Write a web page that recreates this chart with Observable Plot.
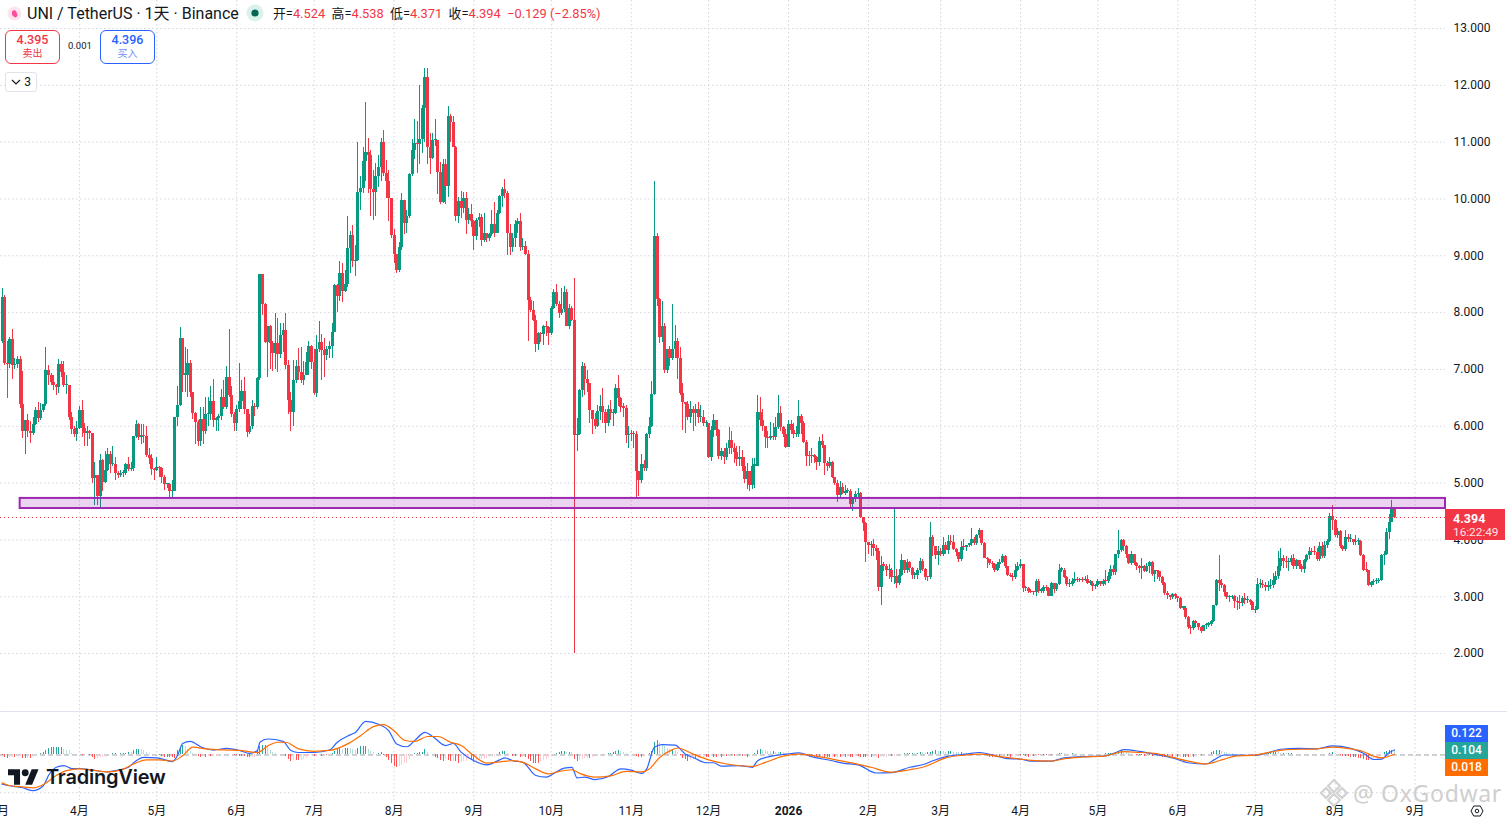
<!DOCTYPE html>
<html><head><meta charset="utf-8">
<script src="https://cdn.jsdelivr.net/npm/d3@7"></script>
<script src="https://cdn.jsdelivr.net/npm/@observablehq/plot@0.6"></script>
<style>
html,body{margin:0;padding:0;background:#fff}
#chart{position:relative;width:1507px;height:817px;overflow:hidden;font-family:Roboto,"Noto Sans CJK SC",sans-serif;color:#131722}
#chart svg.plot{position:absolute;left:0;display:block;background:transparent}
.abs{position:absolute;white-space:nowrap}
.box{position:absolute;box-sizing:border-box;border-radius:6px;background:#fff;text-align:center}
.tag{position:absolute;left:1445px;width:43px;height:17px;line-height:17px;color:#fff;font-size:12px;font-weight:500;text-align:center}
</style></head><body><div id="chart"></div>
<script>
// daily rows: [high, low, close]; open is the previous close
const firstOpen = 7.5;
const mar25=[[8.42,7.45,8.27],[8.3,7.07,7.11],[7.5,6.48,7.08],[7.56,7.02,7.52],[7.7,6.83,7.07],[7.2,7.0,7.08],[7.22,7.02,7.17],[7.22,6.32,6.39],[6.96,5.78,5.9],[6.1,5.5,6.1],
[6.2,5.8,5.91],[6.08,5.7,5.87],[6.15,5.83,6.03],[6.33,6.02,6.27],[6.42,6.07,6.13],[6.4,6.1,6.27],[6.39,6.25,6.38],[7.38,6.35,6.98],[7.07,6.72,6.9],[6.92,6.72,6.77],
[6.9,6.63,6.72],[6.74,6.55,6.69],[7.17,6.58,7.08],[7.14,6.85,6.94],[7.14,6.68,6.72],[6.9,6.56,6.72],[6.72,6.1,6.16],[6.25,5.86,5.94],[6.0,5.8,5.85],[6.08,5.74,5.96]];
const apr25=[[6.34,5.95,6.27],[6.46,5.8,5.96],[6.05,5.65,5.88],[6.0,5.65,5.91],[5.93,5.77,5.87],[5.87,5.0,5.08],[5.37,4.6,5.13],[5.13,4.6,4.76],[5.5,4.56,5.4],[5.42,4.85,5.01],
[5.56,5.0,5.23],[5.6,5.2,5.5],[5.56,5.16,5.32],[5.64,5.3,5.33],[5.45,5.05,5.17],[5.2,5.08,5.13],[5.22,5.09,5.16],[5.22,5.1,5.17],[5.35,5.13,5.32],[5.45,5.2,5.24],
[5.36,5.2,5.26],[5.82,5.2,5.82],[6.1,5.78,6.03],[6.05,5.75,5.8],[6.03,5.68,5.83],[6.03,5.7,5.82],[6.0,5.45,5.49],[5.6,5.32,5.44],[5.5,5.13,5.24],[5.26,5.05,5.22]];
const may25=[[5.45,5.2,5.27],[5.3,5.1,5.25],[5.27,5.0,5.1],[5.14,4.87,4.97],[5.0,4.9,4.97],[5.0,4.75,4.85],[5.04,4.74,4.86],[6.15,4.85,6.15],[6.7,6.0,6.36],[7.74,6.34,7.55],
[7.55,6.6,6.9],[7.38,6.6,6.9],[7.35,6.5,7.1],[7.16,6.5,6.6],[6.6,6.12,6.23],[6.25,5.68,6.07],[6.1,5.65,5.74],[6.33,5.65,6.12],[6.33,5.68,5.9],[6.5,5.85,6.2],
[6.5,6.0,6.2],[6.7,6.1,6.44],[6.82,5.98,6.1],[6.15,5.9,6.14],[6.2,5.9,6.17],[6.65,6.1,6.5],[6.8,6.3,6.33],[7.05,6.3,6.85],[7.7,6.5,6.54],[6.7,6.15,6.2],[6.25,5.9,6.05]];
const jun25=[[6.37,5.9,6.3],[7.1,6.25,6.44],[6.8,6.3,6.62],[6.85,6.2,6.3],[6.3,5.8,5.89],[6.2,5.85,5.99],[6.45,5.95,6.34],[6.4,6.17,6.33],[6.85,6.3,6.84],[8.67,6.8,8.67],
[8.67,7.95,8.15],[8.16,7.45,7.47],[7.76,6.85,7.76],[7.78,7.0,7.45],[7.5,6.97,7.28],[7.98,7.0,7.45],[7.9,6.95,7.27],[7.8,7.2,7.6],[7.8,7.3,7.69],[7.98,7.0,7.07],
[7.15,6.2,6.45],[6.6,5.9,6.24],[7.15,6.0,6.8],[7.15,6.75,7.06],[7.36,6.8,6.95],[7.38,6.75,6.8],[7.14,6.72,6.9],[7.3,6.9,7.12],[7.5,6.9,7.4],[7.42,7.0,7.13]];
const jul25=[[7.35,6.55,6.58],[7.6,6.5,7.35],[7.85,7.3,7.47],[7.62,6.8,7.33],[7.55,6.85,7.25],[7.4,7.15,7.35],[7.5,7.2,7.4],[7.8,7.2,7.65],[8.5,7.65,8.47],[8.5,8.0,8.28],
[8.9,8.2,8.68],[8.86,8.18,8.38],[8.75,8.35,8.49],[9.7,8.45,9.12],[9.42,8.68,9.35],[9.53,8.8,8.9],[9.18,8.63,8.92],[11.0,8.9,10.12],[10.4,9.8,10.18],[10.9,10.1,10.66],
[11.7,10.3,10.82],[11.07,10.1,10.76],[10.85,9.7,10.17],[10.5,9.62,10.12],[10.62,9.7,10.4],[10.77,10.2,10.55],[11.06,10.3,11.0],[11.2,10.4,10.45],[10.68,10.0,10.3],[10.5,9.6,10.0],[10.0,9.3,9.35]];
const aug25=[[9.47,8.86,9.03],[9.03,8.68,8.74],[9.24,8.7,9.14],[10.09,9.1,9.97],[9.97,9.38,9.57],[9.8,9.4,9.7],[10.44,9.65,10.43],[11.05,10.4,10.86],[11.39,10.7,10.97],[11.36,10.45,10.95],
[12.0,10.6,11.04],[11.65,10.8,11.6],[12.3,11.0,12.13],[12.3,10.6,10.9],[11.15,10.43,10.71],[11.15,10.7,11.03],[11.39,10.92,11.03],[11.03,10.08,10.47],[10.65,9.9,9.93],[10.7,9.92,10.6],
[10.7,9.9,10.22],[11.63,10.03,11.45],[11.48,11.0,11.35],[11.45,10.9,10.9],[10.93,9.6,9.7],[10.03,9.57,9.95],[10.13,9.65,9.84],[10.12,9.74,10.0],[10.12,9.37,9.62],[9.83,9.55,9.72],[9.9,9.5,9.6]];
const sep25=[[9.62,9.1,9.34],[9.65,9.27,9.62],[9.75,9.5,9.68],[9.72,9.17,9.27],[9.75,9.23,9.39],[9.39,9.24,9.31],[9.4,9.25,9.38],[9.8,9.34,9.55],[9.94,9.33,9.4],[9.8,9.45,9.74],
[10.06,9.72,10.05],[10.2,9.85,10.17],[10.35,10.0,10.1],[10.13,9.0,9.4],[9.55,9.0,9.15],[9.4,9.05,9.3],[9.62,9.15,9.55],[9.65,9.4,9.6],[9.74,9.08,9.15],[9.3,9.1,9.17],
[9.25,9.0,9.03],[9.09,7.5,8.22],[8.27,8.0,8.03],[8.2,7.85,7.87],[7.95,7.3,7.44],[7.65,7.33,7.64],[7.65,7.48,7.62],[7.77,7.42,7.76],[7.85,7.58,7.74],[7.76,7.42,7.63]];
const oct25=[[8.1,7.6,8.07],[8.4,8.05,8.35],[8.5,8.1,8.15],[8.2,7.9,7.99],[8.43,7.95,8.05],[8.46,8.0,8.36],[8.4,7.75,7.76],[8.15,7.7,8.07],[8.1,7.84,7.86],[8.6,2.0,5.83],
[6.13,5.56,5.85],[6.65,5.83,6.63],[7.12,6.5,7.05],[7.1,6.55,6.82],[6.98,6.6,6.76],[6.72,6.05,6.27],[6.27,5.86,6.12],[6.22,5.95,6.0],[6.36,5.97,6.26],[6.55,6.1,6.34],
[6.67,6.05,6.25],[6.3,5.88,6.05],[6.36,6.0,6.3],[6.46,6.1,6.22],[6.3,6.0,6.23],[6.73,6.2,6.67],[6.9,6.35,6.48],[6.5,6.25,6.33],[6.4,6.15,6.32],[6.37,5.7,5.84],[6.0,5.6,5.86]];
const nov25=[[5.93,5.73,5.85],[5.9,5.6,5.86],[5.9,4.75,5.2],[5.2,4.76,5.05],[5.5,5.0,5.33],[5.4,5.2,5.25],[5.87,5.2,5.86],[6.15,5.78,6.0],[6.78,5.98,6.56],[10.3,6.55,9.34],
[9.4,8.1,8.23],[8.24,7.45,7.57],[8.2,7.48,7.75],[7.8,6.93,6.98],[7.35,6.93,7.35],[7.4,7.05,7.2],[8.15,7.15,7.35],[7.77,7.2,7.5],[7.55,6.83,7.2],[7.38,6.55,6.57],
[6.75,5.92,6.42],[6.42,5.88,6.38],[6.44,6.1,6.15],[6.44,6.05,6.3],[6.35,5.9,6.22],[6.38,6.0,6.3],[6.42,6.05,6.15],[6.36,6.07,6.15],[6.27,6.0,6.05],[6.1,5.98,6.05]];
const dec25=[[6.05,5.43,5.45],[6.0,5.38,5.92],[6.2,5.8,6.1],[6.1,5.82,5.92],[5.95,5.42,5.47],[5.6,5.4,5.55],[5.6,5.33,5.45],[5.7,5.4,5.6],[5.97,5.5,5.75],[5.9,5.5,5.6],
[5.7,5.35,5.53],[5.65,5.3,5.42],[5.65,5.3,5.45],[5.57,5.2,5.29],[5.45,5.0,5.07],[5.35,4.88,5.2],[5.2,4.85,4.95],[5.43,4.88,5.3],[5.43,4.9,5.3],[6.55,5.3,6.25],
[6.5,6.0,6.1],[6.3,5.9,6.0],[6.0,5.6,5.81],[5.9,5.6,5.78],[6.06,5.75,5.82],[6.05,5.75,5.8],[6.15,5.75,5.98],[6.55,5.95,6.23],[6.35,5.9,5.98],[6.0,5.8,5.85],[5.95,5.6,5.63]];
const jan26=[[6.1,5.62,6.03],[6.1,5.85,5.92],[6.05,5.78,5.85],[6.0,5.8,5.85],[6.45,5.8,6.17],[6.2,5.85,6.05],[6.08,5.7,5.72],[5.75,5.3,5.47],[5.55,5.3,5.46],[5.6,5.35,5.48],
[5.5,5.35,5.45],[5.47,5.22,5.36],[5.8,5.3,5.73],[5.85,5.6,5.66],[5.67,5.13,5.35],[5.38,5.2,5.3],[5.45,5.25,5.36],[5.38,5.08,5.09],[5.1,4.95,5.0],[5.04,4.65,4.78],
[5.03,4.75,4.93],[5.0,4.8,4.82],[4.95,4.78,4.85],[4.9,4.82,4.85],[4.88,4.55,4.63],[4.75,4.5,4.72],[4.85,4.65,4.8],[4.9,4.75,4.82],[4.83,4.38,4.39],[4.4,4.15,4.29],[4.3,3.6,3.96]];
const feb26=[[3.96,3.75,3.9],[3.98,3.7,3.92],[4.0,3.7,3.84],[3.9,3.63,3.8],[3.84,3.1,3.17],[3.7,2.85,3.55],[3.6,3.45,3.54],[3.56,3.35,3.46],[3.57,3.3,3.47],[3.5,3.25,3.34],
[4.57,3.22,3.36],[3.48,3.15,3.23],[3.48,3.2,3.38],[3.74,3.35,3.63],[3.63,3.4,3.46],[3.65,3.4,3.6],[3.62,3.42,3.5],[3.52,3.3,3.38],[3.42,3.3,3.38],[3.5,3.3,3.47],
[3.68,3.4,3.62],[3.66,3.45,3.48],[3.5,3.28,3.34],[3.35,3.27,3.33],[4.3,3.3,4.05],[4.08,3.7,3.88],[3.88,3.65,3.72],[3.88,3.55,3.8]];
const mar26=[[3.85,3.7,3.74],[4.05,3.7,3.9],[3.95,3.75,3.82],[4.08,3.75,3.97],[4.08,3.9,3.96],[4.07,3.82,3.83],[3.85,3.7,3.78],[3.78,3.6,3.65],[3.98,3.62,3.87],[4.0,3.82,3.86],
[3.9,3.8,3.9],[3.94,3.87,3.93],[4.2,3.88,4.0],[4.05,3.9,3.93],[4.1,3.9,4.07],[4.2,4.02,4.16],[4.17,3.9,3.94],[3.95,3.67,3.68],[3.69,3.5,3.65],[3.65,3.55,3.58],
[3.62,3.5,3.57],[3.58,3.42,3.47],[3.6,3.45,3.57],[3.65,3.5,3.6],[3.75,3.58,3.7],[3.72,3.5,3.53],[3.54,3.35,3.37],[3.4,3.33,3.35],[3.4,3.27,3.33],[3.57,3.3,3.47],[3.6,3.45,3.54]];
const apr26=[[3.66,3.5,3.56],[3.56,3.08,3.15],[3.18,3.1,3.15],[3.17,3.06,3.1],[3.12,3.05,3.08],[3.1,3.03,3.07],[3.3,3.0,3.27],[3.3,3.05,3.1],[3.15,3.05,3.1],[3.2,3.05,3.17],
[3.2,3.1,3.15],[3.17,3.0,3.01],[3.25,3.0,3.23],[3.24,3.05,3.12],[3.23,3.1,3.22],[3.56,3.2,3.47],[3.52,3.42,3.47],[3.5,3.32,3.34],[3.36,3.18,3.21],[3.3,3.17,3.22],
[3.32,3.18,3.27],[3.42,3.24,3.31],[3.33,3.25,3.28],[3.32,3.25,3.29],[3.33,3.25,3.28],[3.35,3.26,3.3],[3.37,3.22,3.24],[3.28,3.2,3.24],[3.27,3.1,3.18],[3.22,3.12,3.19]];
const may26=[[3.3,3.17,3.26],[3.27,3.18,3.21],[3.3,3.18,3.27],[3.46,3.2,3.26],[3.42,3.24,3.35],[3.55,3.3,3.48],[3.55,3.38,3.42],[3.75,3.37,3.74],[4.17,3.67,3.81],[4.0,3.78,3.99],
[4.0,3.8,3.89],[3.9,3.68,3.74],[3.75,3.56,3.58],[3.8,3.55,3.74],[3.75,3.55,3.58],[3.6,3.47,3.53],[3.55,3.4,3.5],[3.68,3.3,3.54],[3.55,3.42,3.45],[3.58,3.42,3.54],
[3.62,3.4,3.6],[3.62,3.35,3.39],[3.46,3.25,3.46],[3.47,3.3,3.44],[3.42,3.27,3.33],[3.35,3.2,3.24],[3.25,3.03,3.06],[3.1,2.95,3.02],[3.03,2.93,2.98],[3.05,2.95,3.04],[3.05,2.95,3.0]];
const jun26=[[3.0,2.9,2.96],[2.98,2.78,2.8],[2.82,2.75,2.8],[2.82,2.6,2.63],[2.65,2.43,2.45],[2.5,2.33,2.44],[2.58,2.4,2.57],[2.58,2.45,2.52],[2.53,2.4,2.46],[2.47,2.36,2.39],
[2.5,2.38,2.49],[2.53,2.42,2.5],[2.55,2.45,2.51],[2.58,2.47,2.57],[2.84,2.55,2.84],[3.3,2.82,3.29],[3.72,3.1,3.23],[3.3,3.15,3.2],[3.22,3.0,3.07],[3.08,2.95,2.98],
[3.02,2.9,2.98],[3.02,2.95,3.0],[3.02,2.8,2.92],[2.98,2.75,2.89],[3.03,2.78,2.88],[3.0,2.82,2.96],[3.05,2.87,2.93],[3.0,2.88,2.93],[2.95,2.85,2.9],[2.92,2.75,2.76]];
const jul26=[[2.82,2.7,2.78],[3.32,2.75,3.21],[3.3,3.15,3.22],[3.28,3.15,3.2],[3.25,3.1,3.17],[3.27,3.1,3.18],[3.3,3.12,3.19],[3.4,3.15,3.28],[3.45,3.22,3.36],[3.8,3.3,3.53],
[3.84,3.45,3.67],[3.72,3.5,3.62],[3.7,3.5,3.6],[3.68,3.45,3.6],[3.72,3.55,3.67],[3.75,3.48,3.53],[3.65,3.48,3.63],[3.64,3.48,3.54],[3.56,3.42,3.48],[3.66,3.4,3.63],
[3.75,3.6,3.72],[3.87,3.65,3.79],[3.85,3.72,3.78],[3.88,3.72,3.77],[3.85,3.62,3.66],[3.95,3.62,3.88],[3.95,3.68,3.7],[3.98,3.68,3.9],[4.0,3.85,3.98],[4.47,3.95,4.42],[4.6,4.17,4.35]];
const aug26=[[4.36,4.05,4.07],[4.2,4.02,4.15],[4.16,3.85,3.89],[3.91,3.8,3.83],[4.17,3.8,4.05],[4.1,3.95,4.0],[4.1,3.95,4.0],[4.0,3.9,3.95],[4.08,3.9,3.97],[4.02,3.9,3.98],
[3.99,3.7,3.72],[3.75,3.45,3.47],[3.6,3.42,3.46],[3.47,3.18,3.2],[3.26,3.17,3.25],[3.3,3.2,3.27],[3.32,3.22,3.27],[3.32,3.24,3.29],[3.75,3.27,3.72],[3.8,3.55,3.75],
[4.2,3.72,4.13],[4.45,4.0,4.3],[4.7,4.3,4.53],[4.54,4.37,4.39]];

// histogram, one value a candle, same month order
const histMar25=[-.02,-.06,-.08,-.07,-.05,-.06,-.05,-.04,-.08,-.09,-.08,-.09,-.07,-.04,.02,.03,.06,.1,.17,.18,.18,.18,.18,.18,.14,.12,.1,.04,.01,.01];
const histApr25=[.01,-.01,.01,.01,-.02,-.05,-.1,-.09,-.07,-.06,-.05,.01,.02,.03,.03,.02,.03,.03,.04,.06,.05,.1,.14,.14,.13,.1,.06,.04,.01,.01];
const histMay25=[.01,-.01,-.03,-.05,-.05,-.06,-.06,-.08,.1,.18,.22,.2,.13,.09,.03,.0,-.03,-.05,-.04,-.06,-.03,-.04,-.03,-.02,-.01,.01,.02,.02,.02,.01,-.02];
const histJun25=[-.02,-.03,-.03,-.04,-.07,-.07,-.06,-.05,.1,.2,.22,.22,.18,.12,.05,.03,.02,.02,.01,-.03,-.1,-.16,-.14,-.14,-.14,-.13,-.12,-.08,-.04,-.02];
const histJul25=[-.04,-.03,-.02,-.03,-.02,-.02,-.01,.04,.08,.13,.16,.14,.15,.17,.15,.14,.1,.15,.2,.2,.2,.14,.09,.06,.02,.03,.05,-.01,-.06,-.14,-.22];
const histAug25=[-.28,-.3,-.28,-.25,-.22,-.2,-.12,-.04,.03,.04,.05,.06,.14,.06,.02,.0,-.05,-.09,-.13,-.15,-.12,-.13,-.17,-.15,-.17,-.2,-.18,-.17,-.16,-.12,-.13];
const histSep25=[-.18,-.15,-.14,-.12,-.1,-.08,-.06,-.04,-.03,.02,.06,.08,.09,.03,.01,-.03,-.03,-.02,-.06,-.05,-.07,-.12,-.16,-.2,-.2,-.2,-.17,-.14,-.1,-.05];
const histOct25=[-.01,.02,.03,.06,.08,.09,.07,.07,.06,-.1,-.16,-.14,-.1,-.09,-.08,-.08,-.07,-.06,-.04,-.02,.01,.02,.03,.04,.06,.09,.11,.08,.06,.03,.02];
const histNov25=[.02,.0,-.03,-.05,-.05,-.02,.01,.03,.08,.3,.35,.3,.24,.2,.17,.14,.14,.1,.05,-.01,-.09,-.12,-.15,-.14,-.1,-.1,-.09,-.06,-.05,-.05];
const histDec25=[-.05,-.03,-.05,-.05,-.03,-.05,-.02,-.03,-.02,-.02,-.03,-.02,-.02,-.04,-.03,-.05,-.04,-.02,.03,.1,.13,.12,.1,.09,.08,.08,.07,.06,.06,.05,.04];
const histJan26=[.03,.02,.02,.01,.01,.01,-.01,-.03,-.05,-.06,-.05,-.05,-.06,-.05,-.06,-.07,-.07,-.06,-.06,-.05,-.05,-.04,-.05,-.04,-.05,-.05,-.04,-.04,-.05,-.06,-.07];
const histFeb26=[-.06,-.07,-.06,-.05,-.08,-.07,-.06,-.05,-.04,-.04,-.03,-.02,.02,.02,.03,.03,.04,.04,.03,.03,.06,.05,.04,.05,.06,.09,.1,.09];
const histMar26=[.09,.08,.07,.08,.08,.07,.06,.05,.05,.03,.03,.02,.01,.02,.01,.01,.0,-.02,-.03,-.05,-.05,-.04,-.03,-.04,-.03,-.02,-.03,-.05,-.04,-.03,-.02];
const histApr26=[-.02,-.02,-.04,-.05,-.03,-.03,-.02,-.02,-.01,-.01,-.01,.0,-.01,.01,.01,.03,.04,.03,.02,.02,.03,.02,.02,.01,.01,.01,.02,.01,.02,.01];
const histMay26=[.01,.02,.02,.03,.03,.03,.04,.06,.09,.1,.08,.05,.03,.01,.0,-.01,-.02,-.02,-.03,-.02,-.02,-.03,-.02,-.03,-.04,-.05,-.06,-.07,-.06,-.06,-.05];
const histJun26=[-.07,-.06,-.06,-.07,-.07,-.05,-.05,-.03,-.02,-.02,-.01,.0,.02,.05,.09,.1,.1,.09,.07,.05,.04,.03,.02,.02,.01,.01,.0,.0,.0,-.01];
const histJul26=[-.01,.02,.02,.03,.03,.04,.05,.06,.06,.05,.04,.04,.03,.03,.03,.02,.01,.01,.0,.01,.01,.01,.0,.02,.01,.02,.02,.01,.02,.04,.05];
const histAug26=[.03,.0,-.02,-.04,-.04,-.04,-.05,-.06,-.07,-.08,-.08,-.1,-.13,-.14,-.13,-.1,-.06,-.03,.02,.05,.08,.1,.12,.104];

// MACD and signal read at these candle numbers
const macdAt=[0,3,8,12,16,18,21,24,27,30,35,41,45,49,52,55,60,66,68,70,73,77,82,87,92,96,99,100,103,109,112,115,121,127,130,135,137,141,146,150,153,157,160,164,167,172,175,178,183,188,193,195,198,202,207,211,214,218,221,223,226,230,235,240,244,248,250,253,256,261,265,268,273,276,279,286,291,293,299,304,309,315,322,326,332,339,345,352,358,361,367,374,379,387,390,395,399,407,412,419,428,432,435,441,447,454,460,467,470,474,485,490,496,503,510,516,523,528,532,535,538,540];
const macdValues=[-.71,-.75,-.8,-.87,-.75,-.5,-.3,-.26,-.33,-.33,-.37,-.41,-.37,-.3,-.14,-.06,-.07,-.16,-.02,.28,.33,.2,.12,.16,.11,.04,.11,.31,.39,.33,.11,.06,.06,.12,.31,.49,.55,.82,.75,.59,.27,.2,.35,.55,.45,.23,.28,.07,-.14,-.24,-.12,-.07,-.14,-.18,-.5,-.54,-.45,-.32,-.3,-.56,-.54,-.6,-.53,-.34,-.37,-.45,-.34,.19,.25,.24,.02,-.06,-.19,-.19,-.27,-.26,-.3,-.14,-.02,.02,.05,-.06,-.14,-.2,-.24,-.44,-.43,-.3,-.22,-.14,-.03,.02,.06,-.05,-.09,-.1,-.15,-.15,-.07,-.04,-.02,.06,.13,.09,.02,-.07,-.19,-.22,-.12,0,-.01,.04,.14,.16,.15,.22,.16,.04,-.11,-.1,.06,.122];
const signalAt=[0,3,7,12,16,21,25,30,35,41,46,51,56,61,66,70,74,79,87,92,99,103,107,110,115,121,127,134,139,144,148,152,156,160,165,169,174,178,183,188,193,198,202,207,212,216,221,224,230,236,242,248,251,255,259,262,268,274,281,291,296,303,309,315,322,330,337,345,352,358,366,374,379,387,391,395,399,407,412,419,428,435,441,447,454,460,467,470,474,479,485,492,498,510,516,523,528,532,535,540];
const signalValues=[-.68,-.75,-.77,-.8,-.72,-.5,-.38,-.34,-.37,-.41,-.37,-.22,-.12,-.12,-.15,-.02,.19,.15,.12,.11,.06,.22,.31,.31,.15,.09,.11,.27,.47,.69,.74,.59,.36,.33,.45,.45,.31,.23,-.02,-.2,-.17,-.14,-.18,-.34,-.46,-.4,-.36,-.45,-.54,-.51,-.4,-.41,-.34,-.06,.1,.17,.02,-.12,-.22,-.28,-.18,-.03,.02,-.02,-.1,-.2,-.3,-.42,-.36,-.28,-.07,0,.02,-.04,-.07,-.1,-.13,-.15,-.09,-.05,-.02,.08,.06,.04,-.06,-.15,-.22,-.18,-.1,-.02,-.01,.07,.13,.15,.19,.15,.08,-.03,-.07,.018];

const monthTicks=["2025-03-01","2025-04-01","2025-05-01","2025-06-01","2025-07-01","2025-08-01","2025-09-01","2025-10-01","2025-11-01","2025-12-01","2026-01-01","2026-02-01","2026-03-01","2026-04-01","2026-05-01","2026-06-01","2026-07-01","2026-08-01","2026-09-01"];
const monthLabels=["3月","4月","5月","6月","7月","8月","9月","10月","11月","12月","2026","2月","3月","4月","5月","6月","7月","8月","9月"];
const priceTicks=[2,3,4,5,6,7,8,9,10,11,12,13];
const zoneLow=4.552, zoneHigh=4.73, zoneStart="2025-03-09";
const lastClose=4.394;

const monthStarts=["2025-03-02","2025-04-01","2025-05-01","2025-06-01","2025-07-01","2025-08-01","2025-09-01","2025-10-01","2025-11-01","2025-12-01","2026-01-01","2026-02-01","2026-03-01","2026-04-01","2026-05-01","2026-06-01","2026-07-01","2026-08-01"];
const monthRows=[mar25,apr25,may25,jun25,jul25,aug25,sep25,oct25,nov25,dec25,jan26,feb26,mar26,apr26,may26,jun26,jul26,aug26];
const monthHist=[histMar25,histApr25,histMay25,histJun25,histJul25,histAug25,histSep25,histOct25,histNov25,histDec25,histJan26,histFeb26,histMar26,histApr26,histMay26,histJun26,histJul26,histAug26];

const DAY=86400000, UP="#089981", DOWN="#F23645", GRID="#d3d6dd";
const candles=[]; let prev=firstOpen;
monthRows.forEach((rows,m)=>{
  const t0=+new Date(monthStarts[m]+"T00:00:00Z");
  rows.forEach((r,k)=>{
    const o=prev,c=r[2],top=Math.max(o,c),bot=Math.min(o,c);
    candles.push({date:new Date(t0+k*DAY),o,c,h:Math.max(r[0],top),l:Math.min(r[1],bot),top:Math.max(top,bot+.02),bot,up:c>=o,hist:monthHist[m][k]??0});
    prev=c;
  });
});
candles.forEach((d,i)=>{const p=i?candles[i-1].hist:0;
  d.histColor=d.hist>=0?(d.hist>=p?"#26a69a":"#b2dfdb"):(d.hist<=p?"#ff5252":"#ffcdd2");});
const macdLine=macdAt.map((k,i)=>({date:candles[k].date,v:macdValues[i]}));
const signalLine=signalAt.map((k,i)=>({date:candles[k].date,v:signalValues[i]}));
const ticks=monthTicks.map((d,i)=>({date:new Date(d+"T00:00:00Z"),label:monthLabels[i]}));
const xDomain=[new Date("2025-03-01T09:07:00Z"),new Date("2026-09-12T19:12:00Z")];
const fontFamily='Roboto,"Noto Sans CJK SC",sans-serif';
const dots="1.5 2.5";

const vGrid=Plot.ruleX(ticks,{x:"date",stroke:GRID,strokeDasharray:dots});
const candleMarks=(flag,col)=>{const f=d=>d.up===flag;return [
  Plot.ruleX(candles,{filter:f,x:"date",y1:"l",y2:"h",stroke:col,strokeWidth:1,shapeRendering:"crispEdges"}),
  Plot.ruleX(candles,{filter:f,x:"date",y1:"bot",y2:"top",stroke:col,strokeWidth:3,shapeRendering:"crispEdges"})
];};

const main=Plot.plot({
  width:1507,height:711,marginTop:0,marginBottom:0,marginLeft:0,marginRight:62,
  style:{fontFamily,fontSize:"12px",color:"#131722",background:"transparent"},
  x:{type:"utc",domain:xDomain,axis:null},
  y:{domain:[0.98,13.493]},
  marks:[
    vGrid,
    Plot.ruleY(priceTicks,{stroke:GRID,strokeDasharray:dots}),
    ...candleMarks(true,UP),...candleMarks(false,DOWN),
    Plot.rect([{x1:new Date(zoneStart+"T00:00:00Z"),x2:xDomain[1],y1:zoneLow,y2:zoneHigh}],{x1:"x1",x2:"x2",y1:"y1",y2:"y2",fill:"#9c27b0",fillOpacity:.2,stroke:"#9c27b0",strokeWidth:2}),
    Plot.ruleY([lastClose],{stroke:DOWN,strokeDasharray:"1 3"}),
    Plot.axisY(priceTicks,{anchor:"right",tickSize:0,tickPadding:8,label:null,tickFormat:d3.format(".3f"),fontSize:12})
  ]
});
main.style.top="0";

const sub=Plot.plot({
  width:1507,height:106,marginTop:0,marginBottom:17,marginLeft:0,marginRight:62,
  style:{fontFamily,fontSize:"12px",color:"#131722",background:"transparent"},
  x:{type:"utc",domain:xDomain,axis:null},
  y:{domain:[-1.11,1.06],axis:null},
  marks:[
    vGrid,
    Plot.ruleY([-.92],{stroke:GRID,strokeDasharray:dots}),
    Plot.ruleY([0],{stroke:"#787b86",strokeOpacity:.7,strokeDasharray:"5 3"}),
    Plot.ruleX(candles,{x:"date",y1:0,y2:"hist",stroke:"histColor",strokeWidth:1,shapeRendering:"crispEdges"}),
    Plot.line(macdLine,{x:"date",y:"v",stroke:"#2962ff",strokeWidth:1.2,curve:"monotone-x"}),
    Plot.line(signalLine,{x:"date",y:"v",stroke:"#ff6d00",strokeWidth:1.2,curve:"monotone-x"}),
    Plot.text(ticks,{filter:d=>d.label!=="2026",x:"date",text:"label",frameAnchor:"bottom",lineAnchor:"middle",dy:11,fontSize:12,fill:"#131722"}),
    Plot.text(ticks,{filter:d=>d.label==="2026",x:"date",text:"label",frameAnchor:"bottom",lineAnchor:"middle",dy:11,fontSize:12,fontWeight:700,fill:"#131722"})
  ]
});
sub.style.top="711px";

const root=document.getElementById("chart");
root.append(main,sub);
root.insertAdjacentHTML("beforeend",`
<div class="abs" style="left:0;top:711px;width:1507px;height:1px;background:#e0e3eb"></div>
<svg class="abs" style="left:7px;top:6px" width="15" height="15"><circle cx="7.5" cy="7.5" r="7" fill="#fde3ee"/><path d="M5 5l3-1 2 3 .5 3-2 1.5-2-1-1.5-1.5z" fill="#ff4f9a"/></svg>
<div class="abs" style="left:27px;top:4px;font-size:16px;line-height:19px">UNI / TetherUS · 1天 · Binance</div>
<svg class="abs" style="left:246px;top:4px" width="18" height="18"><circle cx="9" cy="9" r="8.5" fill="#daf1ec"/><circle cx="9" cy="9" r="3.6" fill="#056656"/></svg>
<div class="abs" style="left:273px;top:5px;font-size:12.85px;line-height:18px;color:#131722">开=<span style="color:#F23645">4.524</span>&nbsp; 高=<span style="color:#F23645">4.538</span>&nbsp; 低=<span style="color:#F23645">4.371</span>&nbsp; 收=<span style="color:#F23645">4.394 &nbsp;−0.129 (−2.85%)</span></div>
<div class="box" style="left:5px;top:30px;width:55px;height:34px;border:1px solid #F23645;color:#F23645"><div style="font-size:12.5px;font-weight:500;line-height:17px;margin-top:0">4.395</div><div style="font-size:10px;line-height:12px">卖出</div></div>
<div class="abs" style="left:68px;top:40px;font-size:9.5px;line-height:12px">0.001</div>
<div class="box" style="left:100px;top:30px;width:55px;height:34px;border:1px solid #2962ff;color:#2962ff"><div style="font-size:12.5px;font-weight:500;line-height:17px;margin-top:0">4.396</div><div style="font-size:10px;line-height:12px;color:#6f93f5">买入</div></div>
<div class="box" style="left:5px;top:72px;width:32px;height:20px;border:1px solid #e0e3eb;border-radius:3px;font-size:12px;line-height:18px;padding-left:13px"><svg style="position:absolute;left:5px;top:6px" width="10" height="7"><path d="M1 1l4 4 4-4" fill="none" stroke="#131722" stroke-width="1.2"/></svg>3</div>
<div class="abs" style="left:1445px;top:509px;width:60px;height:31px;background:#F23645;color:#fff;text-align:left"><div style="font-size:12.5px;font-weight:700;line-height:15px;margin:2px 0 0 8px">4.394</div><div style="font-size:11.8px;line-height:13px;margin-left:8px;opacity:.85">16:22:49</div></div>
<div class="tag" style="top:725px;background:#2962ff">0.122</div>
<div class="tag" style="top:742px;background:#26a69a">0.104</div>
<div class="tag" style="top:759px;background:#ff6d00">0.018</div>
<svg class="abs" style="left:8px;top:769px" width="31" height="16" viewBox="0 4 36 18"><path d="M14 22H7V11H0V4h14v18zM28 22h-8l7.5-18h8L28 22z" fill="#131722"/><circle cx="20" cy="8" r="4" fill="#131722"/></svg>
<div class="abs" style="left:46px;top:765px;font-family:Inter,Roboto,sans-serif;font-weight:600;font-size:20px;line-height:25px;letter-spacing:-.2px;color:#131722">TradingView</div>
<svg class="abs" style="left:1319px;top:778px" width="30" height="30" viewBox="0 0 30 30"><g fill="none" stroke="#d2d2d2" stroke-width="2.2"><path d="M15 2l6 6-6 6-6-6z"/><path d="M7 10l5 5-5 5-5-5zM23 10l5 5-5 5-5-5z"/><path d="M15 16l6 6-6 6-6-6z"/></g></svg>
<div class="abs" style="left:1353px;top:781px;font-family:'Noto Sans',sans-serif;font-size:23px;line-height:24px;letter-spacing:.7px;color:#cfcfcf">@ OxGodwar</div>
<svg class="abs" style="left:1470px;top:805px" width="14" height="12" viewBox="0 0 14 12"><path d="M3.7 1h6.6L13 6l-2.7 5H3.7L1 6z" fill="none" stroke="#131722"/><circle cx="7" cy="6" r="1.8" fill="none" stroke="#131722"/></svg>
`);
</script></body></html>
